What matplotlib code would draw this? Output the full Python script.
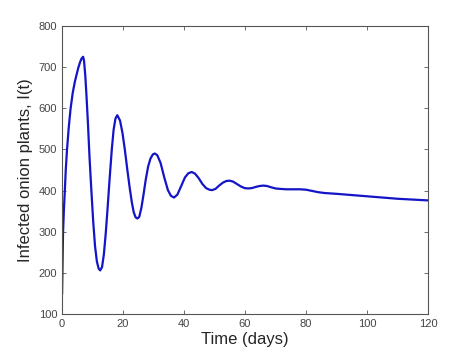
import matplotlib
matplotlib.use("Agg")
import matplotlib.pyplot as plt

# values (time in days, infected plants)
days = [0, 0.3, 0.6, 0.9, 1.2, 1.6, 2.2, 2.8, 3.5, 4.2, 4.7, 5.3, 5.9, 6.4, 6.9,
        7.2, 7.6, 8.0, 8.5, 9.0, 9.6, 10.2, 10.8, 11.4, 12.0, 12.5, 13.1, 13.7,
        14.3, 14.9, 15.6, 16.3, 16.9, 17.5, 18.1, 19.0, 19.8, 20.6, 21.4, 22.2,
        22.9, 23.5, 24.1, 24.7, 25.3, 26.0, 26.7, 27.4, 28.2, 29.0, 29.8, 30.4,
        31.2, 32.3, 33.5, 34.7, 35.7, 36.7, 37.8, 39.0, 40.3, 41.4, 42.5, 43.6,
        44.8, 46.0, 47.2, 48.3, 49.2, 50.3, 51.5, 52.7, 53.8, 54.9, 56.0, 57.3,
        58.6, 59.8, 61.0, 62.3, 63.6, 64.8, 66.0, 67.2, 68.5, 70.0, 71.5, 73.5,
        76, 78, 80, 82, 84, 86, 90, 95, 100, 105, 110, 115, 120]
infected = [150, 296, 355, 400, 450, 498, 555, 600, 638, 665, 680, 698, 712, 721, 725,
            715, 680, 630, 560, 480, 400, 325, 265, 228, 210, 206, 214, 245,
            295, 355, 430, 500, 548, 575, 583, 570, 540, 498, 450, 405,
            370, 347, 335, 332, 336, 358, 390, 425, 458, 478, 488, 490,
            486, 467, 432, 401, 387, 383, 390, 410, 432, 442, 445, 441,
            430, 416, 406, 402, 401, 404, 412, 419, 423, 424, 422, 416,
            410, 406, 405, 406, 409, 411, 412, 411, 408, 405, 404, 403,
            403, 403, 402, 399, 396, 394, 392, 389, 386, 383, 380, 378, 376]

x_ticks = [0, 20, 40, 60, 80, 100, 120]
y_ticks = [100, 200, 300, 400, 500, 600, 700, 800]

plt.rcParams['font.family'] = ['Liberation Sans', 'DejaVu Sans']

fig = plt.figure(figsize=(4.74, 3.55), dpi=100)
ax = fig.add_axes([0.131, 0.1155, 0.772, 0.8115])

ax.plot(days, infected, color='#1414c8', linewidth=1.6)

ax.set_xlim(0, 120)
ax.set_ylim(100, 800)
ax.set_xticks(x_ticks)
ax.set_yticks(y_ticks)

grey = '#262626'
for s in ax.spines.values():
    s.set_color('#555555')
    s.set_linewidth(0.8)
ax.tick_params(direction='in', length=3, width=0.6, colors='#555555',
               labelcolor='#444444', labelsize=8, top=True, right=True)

ax.set_xlabel('Time (days)', fontsize=12, color=grey, labelpad=2)
ax.set_ylabel('Infected onion plants, I(t)', fontsize=12, color=grey, labelpad=4)

fig.savefig('out.png', dpi=100)
